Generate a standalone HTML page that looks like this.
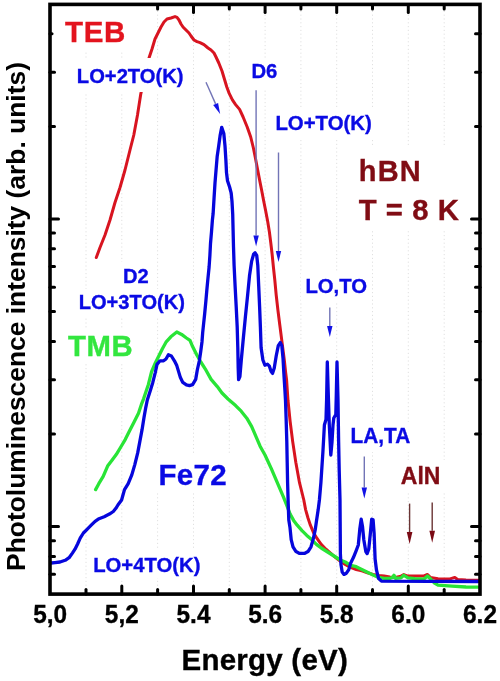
<!DOCTYPE html>
<html><head><meta charset="utf-8"><style>
html,body{margin:0;padding:0;background:#fff;}
svg{display:block;}
text{font-family:"Liberation Sans",Arial,sans-serif;font-weight:bold;stroke-width:0.35px;}
</style></head><body>
<svg width="500" height="681" viewBox="0 0 500 681">
<rect width="500" height="681" fill="#fff"/>
<line x1="86.0" y1="7" x2="86.0" y2="592" stroke="#e0e0e0" stroke-width="1" stroke-dasharray="1.2,2.6"/>
<line x1="121.8" y1="7" x2="121.8" y2="592" stroke="#e0e0e0" stroke-width="1" stroke-dasharray="1.2,2.6"/>
<line x1="157.6" y1="7" x2="157.6" y2="592" stroke="#e0e0e0" stroke-width="1" stroke-dasharray="1.2,2.6"/>
<line x1="193.5" y1="7" x2="193.5" y2="592" stroke="#e0e0e0" stroke-width="1" stroke-dasharray="1.2,2.6"/>
<line x1="229.3" y1="7" x2="229.3" y2="592" stroke="#e0e0e0" stroke-width="1" stroke-dasharray="1.2,2.6"/>
<line x1="265.1" y1="7" x2="265.1" y2="592" stroke="#e0e0e0" stroke-width="1" stroke-dasharray="1.2,2.6"/>
<line x1="300.9" y1="7" x2="300.9" y2="592" stroke="#e0e0e0" stroke-width="1" stroke-dasharray="1.2,2.6"/>
<line x1="336.7" y1="7" x2="336.7" y2="592" stroke="#e0e0e0" stroke-width="1" stroke-dasharray="1.2,2.6"/>
<line x1="372.5" y1="7" x2="372.5" y2="592" stroke="#e0e0e0" stroke-width="1" stroke-dasharray="1.2,2.6"/>
<line x1="408.3" y1="7" x2="408.3" y2="592" stroke="#e0e0e0" stroke-width="1" stroke-dasharray="1.2,2.6"/>
<line x1="444.2" y1="7" x2="444.2" y2="592" stroke="#e0e0e0" stroke-width="1" stroke-dasharray="1.2,2.6"/>
<polyline points="96.3,257.5 100.0,247.5 105.0,235.0 110.0,220.0 115.0,202.5 120.0,187.5 125.0,170.0 130.0,150.0 133.8,135.0 137.5,115.0 140.8,93.8 149.0,58.0 152.0,49.0 155.0,39.0 158.0,33.0 161.0,27.0 164.0,22.0 167.0,19.0 171.0,18.0 175.0,16.6 177.0,17.4 179.0,20.0 181.0,24.0 183.0,27.0 186.0,30.0 189.0,33.0 191.0,36.0 194.0,40.0 197.0,41.6 200.0,42.6 204.0,44.6 208.0,48.0 211.0,50.0 214.0,53.0 216.0,57.0 218.8,63.0 222.0,71.0 224.4,79.0 226.8,87.0 229.2,93.4 232.4,99.8 235.6,104.6 239.6,109.4 243.1,117.0 247.2,127.0 250.7,137.0 253.4,148.0 255.4,158.0 257.5,169.0 259.5,179.5 261.6,190.0 263.6,200.5 265.7,211.0 267.7,221.5 269.4,232.0 270.8,243.0 272.1,254.0 273.5,268.0 274.8,280.0 276.2,295.0 277.9,310.0 279.8,325.0 282.2,343.6 284.3,360.0 285.7,373.0 286.6,380.0 288.0,400.5 290.1,421.1 292.7,441.6 295.8,462.2 299.5,482.7 303.8,500.0 305.6,509.6 308.0,518.0 310.4,525.2 313.4,532.4 317.0,538.4 321.2,544.4 326.0,549.2 330.8,553.4 335.6,557.6 340.4,561.2 345.2,564.4 350.6,567.4 356.2,569.5 361.8,570.9 367.4,572.7 373.0,574.4 378.6,575.5 384.2,576.1 389.8,576.9 395.4,577.5 401.0,576.1 403.8,574.6 408.0,576.1 417.0,576.0 424.0,576.0 427.5,574.5 430.3,577.4 438.0,578.8 449.2,579.1 454.8,577.4 457.6,579.5 466.0,580.0 478.0,580.2" fill="none" stroke="#d81420" stroke-width="3" stroke-linejoin="round" stroke-linecap="round"/>
<polyline points="95.6,489.6 98.8,483.7 103.2,476.4 107.6,466.1 112.0,460.2 116.4,454.3 120.8,447.0 125.2,439.6 129.6,430.8 134.1,422.0 138.5,413.2 141.4,404.4 143.6,398.8 148.4,384.4 151.6,371.6 155.2,363.2 158.8,356.0 162.4,348.8 166.0,342.2 170.8,336.8 176.8,332.0 181.6,334.4 186.4,338.0 190.0,340.4 192.6,346.6 196.7,354.8 200.8,362.0 206.0,370.2 211.1,379.4 217.3,386.6 222.0,393.0 228.0,399.0 235.6,405.6 241.2,411.2 246.8,418.2 251.7,426.6 255.9,436.4 260.1,446.2 265.0,455.0 271.2,468.4 277.3,482.7 283.5,497.1 287.0,506.0 290.0,513.8 293.6,520.4 297.2,525.2 302.0,530.6 306.8,535.4 311.6,539.6 316.4,544.4 321.2,548.0 326.0,551.0 330.8,554.0 335.6,557.0 340.4,560.0 345.2,562.0 350.6,565.3 356.2,566.7 361.8,569.5 367.4,572.3 373.0,575.1 378.6,577.5 384.2,578.3 389.8,578.3 392.5,577.5 394.0,575.3 395.4,578.3 401.0,577.9 403.8,575.3 408.0,577.9 415.0,578.6 424.0,579.1 427.5,576.0 431.0,579.5 434.5,583.0 438.0,585.1 452.0,586.1 466.0,587.0 478.0,587.2" fill="none" stroke="#28e436" stroke-width="3.3" stroke-linejoin="round" stroke-linecap="round"/>
<polyline points="51.0,563.0 55.0,562.6 60.0,562.0 65.2,560.3 69.1,557.7 72.4,553.1 75.0,549.2 77.6,544.0 80.2,538.2 83.4,533.0 87.3,529.1 91.2,525.2 95.1,521.3 99.0,518.7 104.2,516.7 109.4,514.1 113.3,511.5 115.9,508.3 117.9,505.0 121.6,500.0 124.5,489.6 128.2,483.7 131.8,474.9 134.8,464.6 137.7,452.9 139.9,441.1 142.1,429.4 144.0,417.6 145.8,407.3 147.3,400.0 150.5,390.0 152.8,382.4 155.2,372.8 157.0,364.4 160.0,360.8 163.6,360.8 166.0,359.0 168.4,354.8 171.4,356.0 174.4,360.8 176.8,365.6 178.6,371.6 180.4,377.6 182.8,382.4 186.4,384.8 189.5,385.6 192.6,384.6 195.7,379.4 197.3,370.0 199.4,360.5 200.8,351.1 202.0,341.7 202.7,332.3 203.7,322.9 204.7,313.5 205.8,301.8 206.8,290.5 207.9,278.8 209.1,267.0 209.9,255.3 210.5,243.5 211.5,231.8 212.4,220.0 213.1,213.8 214.1,197.3 215.0,182.9 216.0,170.6 217.2,156.2 218.7,145.9 220.1,135.6 221.7,127.3 223.8,133.5 225.0,145.9 225.9,160.3 226.5,172.6 227.5,180.8 229.6,187.0 231.2,193.2 232.0,201.4 232.7,213.8 233.1,230.2 233.5,246.7 234.1,265.5 235.1,286.0 236.2,306.6 237.2,327.2 237.8,347.7 238.2,368.3 238.6,379.6 239.9,376.5 241.3,360.0 243.4,337.5 245.4,316.9 247.5,296.4 249.5,275.8 251.6,261.4 253.6,254.2 255.1,252.8 256.7,255.3 257.8,265.5 258.7,286.0 259.6,306.6 260.4,327.2 261.1,347.7 262.9,360.0 264.9,365.2 267.4,364.2 269.4,366.2 271.1,371.4 272.5,373.4 274.2,368.3 276.2,356.0 278.3,345.7 280.3,342.6 281.8,345.7 283.0,358.0 283.8,372.4 284.9,390.0 285.5,400.5 286.2,421.1 286.8,441.6 287.2,462.2 287.6,482.7 288.2,503.3 288.8,520.0 290.0,527.6 291.2,539.6 293.0,546.8 296.0,551.6 299.6,553.4 304.4,553.4 308.0,551.6 311.0,546.8 313.4,538.4 315.2,530.0 316.4,521.6 318.2,509.6 319.4,500.0 320.9,482.7 322.9,452.0 323.8,436.0 324.4,425.0 326.0,419.5 326.6,400.0 327.3,362.0 328.3,395.0 329.3,425.0 330.8,455.0 332.0,442.0 333.0,425.0 333.8,418.0 335.8,414.5 336.3,395.0 337.0,362.0 338.0,400.0 338.6,440.0 339.2,470.0 340.0,500.0 340.4,554.0 341.0,564.8 342.2,572.0 344.0,574.4 346.4,573.2 348.8,569.6 350.6,563.2 353.4,557.6 356.2,550.6 358.3,545.0 359.8,529.1 361.2,519.2 362.5,526.5 363.8,539.7 365.8,551.6 367.1,553.6 368.8,548.9 370.4,533.0 371.7,519.2 373.1,519.8 374.1,533.0 375.1,559.0 376.5,570.2 378.6,578.6 381.4,581.1 478.0,581.5 478.0,581.5" fill="none" stroke="#0606dc" stroke-width="3.3" stroke-linejoin="round" stroke-linecap="round"/>
<rect x="52" y="7" width="84" height="45" fill="#fff"/>
<rect x="73" y="58" width="116" height="34" fill="#fff"/>
<rect x="247" y="58" width="35" height="30" fill="#fff"/>
<rect x="270" y="108" width="108" height="31" fill="#fff"/>
<rect x="352" y="146" width="116" height="83" fill="#fff"/>
<rect x="118" y="262" width="37" height="27" fill="#fff"/>
<rect x="74" y="289" width="116" height="27" fill="#fff"/>
<rect x="62" y="328" width="76" height="36" fill="#fff"/>
<rect x="301" y="271" width="70" height="30" fill="#fff"/>
<rect x="346" y="422" width="69" height="30" fill="#fff"/>
<rect x="154" y="455" width="78" height="38" fill="#fff"/>
<rect x="395" y="460" width="50" height="32" fill="#fff"/>
<rect x="89" y="550" width="116" height="28" fill="#fff"/>
<text transform="translate(65.0,41.9) scale(1,1.03)" font-size="29.5" fill="#e3141e" stroke="#e3141e" letter-spacing="0.7">TEB</text>
<text transform="translate(76.8,83) scale(1,1.03)" font-size="20.2" fill="#0a0ae4" stroke="#0a0ae4">LO+2TO(K)</text>
<text transform="translate(251.4,78) scale(1,1.03)" font-size="20.3" fill="#0a0ae4" stroke="#0a0ae4">D6</text>
<text transform="translate(275.4,130.4) scale(1,1.03)" font-size="20.4" fill="#0a0ae4" stroke="#0a0ae4">LO+TO(K)</text>
<text transform="translate(358.8,181.2) scale(1,1.03)" font-size="29" fill="#800c14" stroke="#800c14" letter-spacing="1.2">hBN</text>
<text transform="translate(358.7,220) scale(1,1.03)" font-size="29.3" fill="#800c14" stroke="#800c14" letter-spacing="0.55">T = 8 K</text>
<text transform="translate(123.1,283) scale(1,1.03)" font-size="20.1" fill="#0a0ae4" stroke="#0a0ae4">D2</text>
<text transform="translate(78.7,309.2) scale(1,1.03)" font-size="20.1" fill="#0a0ae4" stroke="#0a0ae4">LO+3TO(K)</text>
<text transform="translate(68.0,356) scale(1,1.03)" font-size="29.3" fill="#33e63f" stroke="#33e63f" letter-spacing="0.55">TMB</text>
<text transform="translate(305.4,293.2) scale(1,1.03)" font-size="20.3" fill="#0a0ae4" stroke="#0a0ae4">LO,TO</text>
<text transform="translate(350.6,443.4) scale(1,1.03)" font-size="20.8" fill="#0a0ae4" stroke="#0a0ae4">LA,TA</text>
<text transform="translate(158.5,484.6) scale(1,1.03)" font-size="29.5" fill="#0a0ae4" stroke="#0a0ae4" letter-spacing="0.27">Fe72</text>
<text transform="translate(400.8,484) scale(1,1.03)" font-size="23" fill="#800c14" stroke="#800c14">AlN</text>
<text transform="translate(93.2,572.3) scale(1,1.03)" font-size="20.3" fill="#0a0ae4" stroke="#0a0ae4">LO+4TO(K)</text>
<line x1="206" y1="82.3" x2="215.6" y2="103.9" stroke="#7274b6" stroke-width="1.4"/><polygon points="220.1,114 213.2,105.0 218.1,102.9" fill="#1212e6"/>
<line x1="256.1" y1="90.2" x2="256.1" y2="235.5" stroke="#7274b6" stroke-width="1.4"/><polygon points="256.1,246.5 253.4,235.5 258.8,235.5" fill="#1212e6"/>
<line x1="278.5" y1="152.5" x2="278.5" y2="251.0" stroke="#7274b6" stroke-width="1.4"/><polygon points="278.5,262 275.8,251.0 281.2,251.0" fill="#1212e6"/>
<line x1="329.8" y1="307.6" x2="329.8" y2="326.0" stroke="#7274b6" stroke-width="1.4"/><polygon points="329.8,337 327.1,326.0 332.5,326.0" fill="#1212e6"/>
<line x1="364.3" y1="456.5" x2="364.3" y2="487.5" stroke="#7274b6" stroke-width="1.4"/><polygon points="364.3,498.5 361.6,487.5 367.0,487.5" fill="#1212e6"/>
<line x1="409.6" y1="503.6" x2="409.6" y2="532.0" stroke="#6a3434" stroke-width="1.4"/><polygon points="409.6,544 406.8,532.0 412.4,532.0" fill="#7a0a14"/>
<line x1="432.2" y1="502.4" x2="432.2" y2="530.8" stroke="#6a3434" stroke-width="1.4"/><polygon points="432.2,542.8 429.4,530.8 435.0,530.8" fill="#7a0a14"/>
<rect x="50" y="4.4" width="430" height="589.7" fill="none" stroke="#000" stroke-width="3.6"/>
<line x1="86.0" y1="594" x2="86.0" y2="589.5" stroke="#000" stroke-width="3" stroke-linecap="round"/>
<line x1="121.8" y1="594" x2="121.8" y2="586" stroke="#000" stroke-width="3" stroke-linecap="round"/>
<line x1="157.6" y1="594" x2="157.6" y2="589.5" stroke="#000" stroke-width="3" stroke-linecap="round"/>
<line x1="157.6" y1="4.4" x2="157.6" y2="8.9" stroke="#000" stroke-width="3" stroke-linecap="round"/>
<line x1="193.5" y1="594" x2="193.5" y2="586" stroke="#000" stroke-width="3" stroke-linecap="round"/>
<line x1="193.5" y1="4.4" x2="193.5" y2="12.4" stroke="#000" stroke-width="3" stroke-linecap="round"/>
<line x1="229.3" y1="594" x2="229.3" y2="589.5" stroke="#000" stroke-width="3" stroke-linecap="round"/>
<line x1="229.3" y1="4.4" x2="229.3" y2="8.9" stroke="#000" stroke-width="3" stroke-linecap="round"/>
<line x1="265.1" y1="594" x2="265.1" y2="586" stroke="#000" stroke-width="3" stroke-linecap="round"/>
<line x1="265.1" y1="4.4" x2="265.1" y2="12.4" stroke="#000" stroke-width="3" stroke-linecap="round"/>
<line x1="300.9" y1="594" x2="300.9" y2="589.5" stroke="#000" stroke-width="3" stroke-linecap="round"/>
<line x1="300.9" y1="4.4" x2="300.9" y2="8.9" stroke="#000" stroke-width="3" stroke-linecap="round"/>
<line x1="336.7" y1="594" x2="336.7" y2="586" stroke="#000" stroke-width="3" stroke-linecap="round"/>
<line x1="336.7" y1="4.4" x2="336.7" y2="12.4" stroke="#000" stroke-width="3" stroke-linecap="round"/>
<line x1="372.5" y1="594" x2="372.5" y2="589.5" stroke="#000" stroke-width="3" stroke-linecap="round"/>
<line x1="372.5" y1="4.4" x2="372.5" y2="8.9" stroke="#000" stroke-width="3" stroke-linecap="round"/>
<line x1="408.3" y1="594" x2="408.3" y2="586" stroke="#000" stroke-width="3" stroke-linecap="round"/>
<line x1="408.3" y1="4.4" x2="408.3" y2="12.4" stroke="#000" stroke-width="3" stroke-linecap="round"/>
<line x1="444.2" y1="594" x2="444.2" y2="589.5" stroke="#000" stroke-width="3" stroke-linecap="round"/>
<line x1="444.2" y1="4.4" x2="444.2" y2="8.9" stroke="#000" stroke-width="3" stroke-linecap="round"/>
<line x1="50" y1="574.2" x2="54.5" y2="574.2" stroke="#000" stroke-width="3" stroke-linecap="round"/>
<line x1="480" y1="574.2" x2="475.5" y2="574.2" stroke="#000" stroke-width="3" stroke-linecap="round"/>
<line x1="50" y1="556.4" x2="54.5" y2="556.4" stroke="#000" stroke-width="3" stroke-linecap="round"/>
<line x1="480" y1="556.4" x2="475.5" y2="556.4" stroke="#000" stroke-width="3" stroke-linecap="round"/>
<line x1="50" y1="540.7" x2="54.5" y2="540.7" stroke="#000" stroke-width="3" stroke-linecap="round"/>
<line x1="480" y1="540.7" x2="475.5" y2="540.7" stroke="#000" stroke-width="3" stroke-linecap="round"/>
<line x1="50" y1="526.6" x2="58.5" y2="526.6" stroke="#000" stroke-width="3" stroke-linecap="round"/>
<line x1="480" y1="526.6" x2="471.5" y2="526.6" stroke="#000" stroke-width="3" stroke-linecap="round"/>
<line x1="50" y1="434.0" x2="54.5" y2="434.0" stroke="#000" stroke-width="3" stroke-linecap="round"/>
<line x1="480" y1="434.0" x2="475.5" y2="434.0" stroke="#000" stroke-width="3" stroke-linecap="round"/>
<line x1="50" y1="379.8" x2="54.5" y2="379.8" stroke="#000" stroke-width="3" stroke-linecap="round"/>
<line x1="480" y1="379.8" x2="475.5" y2="379.8" stroke="#000" stroke-width="3" stroke-linecap="round"/>
<line x1="50" y1="341.4" x2="54.5" y2="341.4" stroke="#000" stroke-width="3" stroke-linecap="round"/>
<line x1="480" y1="341.4" x2="475.5" y2="341.4" stroke="#000" stroke-width="3" stroke-linecap="round"/>
<line x1="50" y1="311.6" x2="54.5" y2="311.6" stroke="#000" stroke-width="3" stroke-linecap="round"/>
<line x1="480" y1="311.6" x2="475.5" y2="311.6" stroke="#000" stroke-width="3" stroke-linecap="round"/>
<line x1="50" y1="287.2" x2="54.5" y2="287.2" stroke="#000" stroke-width="3" stroke-linecap="round"/>
<line x1="480" y1="287.2" x2="475.5" y2="287.2" stroke="#000" stroke-width="3" stroke-linecap="round"/>
<line x1="50" y1="266.6" x2="54.5" y2="266.6" stroke="#000" stroke-width="3" stroke-linecap="round"/>
<line x1="480" y1="266.6" x2="475.5" y2="266.6" stroke="#000" stroke-width="3" stroke-linecap="round"/>
<line x1="50" y1="248.8" x2="54.5" y2="248.8" stroke="#000" stroke-width="3" stroke-linecap="round"/>
<line x1="480" y1="248.8" x2="475.5" y2="248.8" stroke="#000" stroke-width="3" stroke-linecap="round"/>
<line x1="50" y1="233.1" x2="54.5" y2="233.1" stroke="#000" stroke-width="3" stroke-linecap="round"/>
<line x1="480" y1="233.1" x2="475.5" y2="233.1" stroke="#000" stroke-width="3" stroke-linecap="round"/>
<line x1="50" y1="219.0" x2="58.5" y2="219.0" stroke="#000" stroke-width="3" stroke-linecap="round"/>
<line x1="480" y1="219.0" x2="471.5" y2="219.0" stroke="#000" stroke-width="3" stroke-linecap="round"/>
<line x1="50" y1="126.4" x2="54.5" y2="126.4" stroke="#000" stroke-width="3" stroke-linecap="round"/>
<line x1="480" y1="126.4" x2="475.5" y2="126.4" stroke="#000" stroke-width="3" stroke-linecap="round"/>
<line x1="50" y1="72.2" x2="54.5" y2="72.2" stroke="#000" stroke-width="3" stroke-linecap="round"/>
<line x1="480" y1="72.2" x2="475.5" y2="72.2" stroke="#000" stroke-width="3" stroke-linecap="round"/>
<line x1="50" y1="33.8" x2="52" y2="33.8" stroke="#000" stroke-width="3" stroke-linecap="round"/>
<line x1="480" y1="33.8" x2="475.5" y2="33.8" stroke="#000" stroke-width="3" stroke-linecap="round"/>
<text transform="translate(50.2,622.5) scale(1,1.03)" font-size="24.4" fill="#000" stroke="#000" text-anchor="middle">5,0</text>
<text transform="translate(121.8,622.5) scale(1,1.03)" font-size="24.4" fill="#000" stroke="#000" text-anchor="middle">5,2</text>
<text transform="translate(193.5,622.5) scale(1,1.03)" font-size="24.4" fill="#000" stroke="#000" text-anchor="middle">5.4</text>
<text transform="translate(265.1,622.5) scale(1,1.03)" font-size="24.4" fill="#000" stroke="#000" text-anchor="middle">5.6</text>
<text transform="translate(336.7,622.5) scale(1,1.03)" font-size="24.4" fill="#000" stroke="#000" text-anchor="middle">5.8</text>
<text transform="translate(408.3,622.5) scale(1,1.03)" font-size="24.4" fill="#000" stroke="#000" text-anchor="middle">6.0</text>
<text transform="translate(480.0,622.5) scale(1,1.03)" font-size="24.4" fill="#000" stroke="#000" text-anchor="middle">6.2</text>
<text transform="translate(181.5,669.7) scale(1,1.03)" font-size="29.5" fill="#000" stroke="#000" letter-spacing="0.24">Energy (eV)</text>
<text transform="translate(24.5,570.9) rotate(-90)" x="0" y="0" font-size="26.4" fill="#000" stroke="none">Photoluminescence intensity (arb. units)</text>
</svg>
</body></html>
